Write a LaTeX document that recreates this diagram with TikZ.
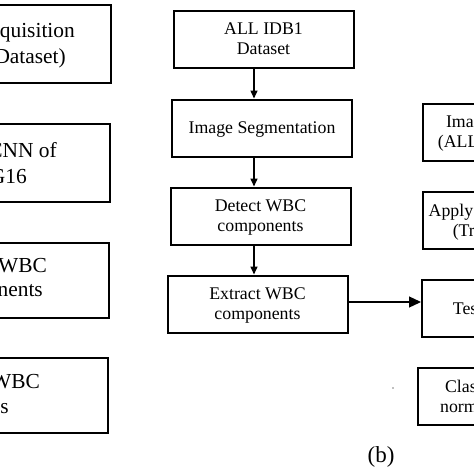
\documentclass[tikz,border=0pt]{standalone}
\usepackage{fontspec}
\setmainfont{Liberation Serif}
\usetikzlibrary{arrows.meta}
\begin{document}
\begin{tikzpicture}[x=1pt,y=-1pt,
  box/.style={draw, line width=2pt, inner sep=0pt, align=center, text depth=0pt,
    font=\fontsize{17.8}{19.8}\selectfont},
  lbox/.style={draw, line width=2pt, inner sep=0pt},
  ltext/.style={anchor=base east, inner sep=0pt, font=\fontsize{21.4}{26}\selectfont},
  flow/.style={line width=1.5pt, -{Triangle[length=8pt,width=7pt]}},
  hflow/.style={line width=1.3pt, -{Triangle[length=12pt,width=11pt]}}]
\useasboundingbox (0,0) rectangle (474,474);
\fill[white] (0,0) rectangle (474,474);
\clip (0,0) rectangle (474,474);

% left column (a), cut off by the left border
\node[lbox, minimum width=180pt, minimum height=78pt] (L1) at (21,43.5) {};
\node[ltext] (L1a) at (75,37) {Image Acquisition};
\node[ltext] (L1b) at (66,63) {(ALL IDB1 Dataset)};
\node[lbox, minimum width=180pt, minimum height=78pt] (L2) at (20,162.5) {};
\node[ltext] (L2a) at (57,157) {Apply CNN of};
\node[ltext] (L2b) at (27,183) {VGG16};
\node[lbox, minimum width=180pt, minimum height=75pt] (L3) at (19,280) {};
\node[ltext] (L3a) at (47,272) {Extract WBC};
\node[ltext] (L3b) at (43,296) {components};
\node[lbox, minimum width=180pt, minimum height=75pt] (L4) at (18,395) {};
\node[ltext] (L4a) at (40,388) {Classify WBC};
\node[ltext] (L4b) at (9,413) {types};

% middle column (b)
\node[box, minimum width=180pt, minimum height=57pt] (A) at (263.5,39) {ALL IDB1\\Dataset};
\node[box, minimum width=180pt, minimum height=57pt] (B) at (262,128) {Image Segmentation};
\node[box, minimum width=180pt, minimum height=57pt] (C) at (260.5,216) {Detect WBC\\components};
\node[box, minimum width=180pt, minimum height=57pt] (D) at (257.5,304) {Extract WBC\\components};

% right column, cut off by the right border
\node[box, minimum width=178pt, minimum height=57pt] (R1) at (512,132) {Image Acquisition\\(ALL IDB1 Dataset)};
\node[box, minimum width=178pt, minimum height=57pt] (R2) at (512,220.5) {Apply CNN of VGG16\\(Training Phase)};
\node[box, minimum width=160pt, minimum height=57pt] (R3) at (502,308) {Testing Phase};
\node[box, minimum width=152pt, minimum height=57pt] (R4) at (494,396) {Classification\\normal or blast};

\coordinate (ax) at (254,0);
\coordinate (ay) at (0,302);
\draw[flow] (A.south -| ax) -- (B.north -| ax);
\draw[flow] (B.south -| ax) -- (C.north -| ax);
\draw[flow] (C.south -| ax) -- (D.north -| ax);
\draw[hflow] (D.east |- ay) -- (R3.west |- ay);

\fill[gray] (393,388) circle (0.9pt);
\node[font=\fontsize{23}{26}\selectfont, inner sep=0pt] (lblb) at (381,457) {(b)};
\end{tikzpicture}
\end{document}
